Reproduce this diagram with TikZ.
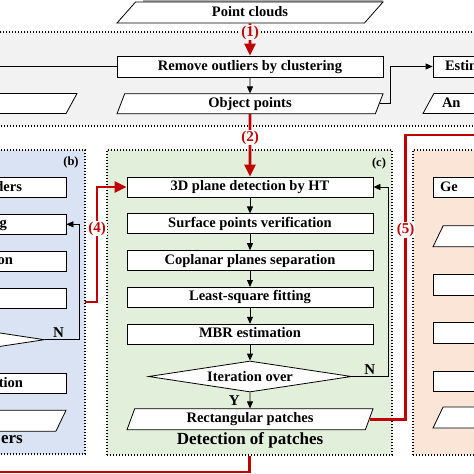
\documentclass[tikz,border=0pt]{standalone}
\usepackage{fontspec}
\setmainfont{Liberation Serif}
\usetikzlibrary{positioning,shapes.geometric,arrows.meta}

\definecolor{darkred}{HTML}{C00000}
\definecolor{graybg}{HTML}{F2F2F2}
\definecolor{bluebg}{HTML}{DAE3F3}
\definecolor{greenbg}{HTML}{E2EFDA}
\definecolor{orangebg}{HTML}{FBE5D6}

\tikzset{
  stepbox/.style={draw, rectangle, fill=white, line width=0.8pt, minimum width=246, minimum height=20,
    inner sep=1pt, text height=10pt, text depth=3pt, font=\bfseries\fontsize{14.5}{16}\selectfont},
  databox/.style={stepbox, trapezium, trapezium left angle=63, trapezium right angle=117,
    trapezium stretches body=true, minimum height=21},
  decision/.style={draw, diamond, fill=white, line width=0.8pt, minimum width=203, minimum height=31,
    aspect=6.5, inner sep=0pt, font=\bfseries\fontsize{14.5}{16}\selectfont},
  cutleft/.style 2 args={align=left, inner xsep=#1, text width=#2},
  cutright/.style 2 args={align=right, inner xsep=#1, text width=#2},
  panel/.style={draw, line width=1.3pt, dash pattern=on 1.3pt off 1.7pt, inner sep=0pt},
  flow/.style={-{Triangle[length=7pt,width=6pt]}, line width=0.8pt},
  link/.style={line width=0.8pt},
  redflow/.style={-{Triangle[length=12pt,width=11pt]}, line width=2.8pt, darkred},
  redline/.style={line width=2.8pt, darkred},
  redlabel/.style={text=darkred, font=\bfseries\fontsize{15}{17}\selectfont, inner sep=1pt},
  yesno/.style={font=\bfseries\fontsize{15}{17}\selectfont, inner sep=2pt},
  titletext/.style={font=\bfseries\fontsize{17}{19}\selectfont, inner sep=0pt},
  tagtext/.style={font=\bfseries\fontsize{12.5}{14}\selectfont, inner sep=0pt},
}

\begin{document}
\begin{tikzpicture}[x=1pt, y=-1pt, node distance=16pt]
\useasboundingbox (0,0) rectangle (474,474);
\clip (0,0) rectangle (474,474);

% backgrounds
\fill[gray!65] (143,-5) rectangle (383,2);
\node[panel, fill=graybg, minimum width=520, minimum height=94] (band) at (237,79) {};
\node[panel, fill=bluebg, minimum width=300, minimum height=304] (panel_b) at (-65,302) {};
\node[panel, fill=greenbg, minimum width=285, minimum height=305] (panel_c) at (249.5,302.5) {};
\node[panel, fill=orangebg, minimum width=300, minimum height=305] (panel_d) at (563,302.5) {};

% top row
\node[databox, trapezium left angle=39, trapezium right angle=141, minimum width=266] (clouds) at (250,12.5) {Point clouds};
\node[stepbox, minimum width=266, minimum height=21] (remove) at (250,66.5) {Remove outliers by clustering};
\node[databox, minimum width=266, minimum height=20] (objpts) [below=of remove] {Object points};
\node[databox, trapezium left angle=54, trapezium right angle=126, minimum width=266, minimum height=20] (left_data) at (-56,103.5) {};
\node[stepbox, cutleft={12pt}{222pt}, minimum height=21] (estima) at (556,66.5) {Estima};
\node[databox, trapezium left angle=54, trapezium right angle=126, cutleft={2pt}{228pt}, minimum width=266, minimum height=20] (an_data) at (556,103.5) {An};

% panel (b)
\node[stepbox, cutright={44pt}{158pt}] (b_one) at (-57,187.5) {lders};
\node[stepbox, cutright={59pt}{128pt}] (b_two) [below=of b_one] {g};
\node[stepbox, cutright={53pt}{140pt}] (b_three) [below=of b_two] {on};
\node[stepbox] (b_four) [below=of b_three] {};
\node[decision] (b_iter) [below=15.5pt of b_four] {};
\node[stepbox, cutright={43pt}{160pt}] (b_five) [below=17.5pt of b_iter] {tion};
\node[databox, trapezium left angle=56, trapezium right angle=124] (b_data) [below=of b_five] {};
\node[titletext, anchor=east] (title_b) at (23,440) {ers};
\node[tagtext] (tag_b) at (71,162) {(b)};

% panel (c)
\node[stepbox] (plane) at (250,187) {3D plane detection by HT};
\node[stepbox] (verify) [below=of plane] {Surface points verification};
\node[stepbox] (coplanar) [below=of verify] {Coplanar planes separation};
\node[stepbox] (lsq) [below=of coplanar] {Least-square fitting};
\node[stepbox] (mbr) [below=of lsq] {MBR estimation};
\node[decision] (iter) [below=of mbr] {Iteration over};
\node[databox] (patches) [below=of iter] {Rectangular patches};
\node[titletext] (title_c) at (250,440) {Detection of patches};
\node[tagtext] (tag_c) at (379,163) {(c)};

% panel (d)
\node[stepbox, cutleft={7pt}{232pt}] (d_one) at (556,187.5) {Ge};
\node[databox, trapezium left angle=56, trapezium right angle=124] (d_two) [below=27.5pt of d_one] {};
\node[stepbox, minimum height=21] (d_three) [below=27pt of d_two] {};
\node[stepbox, minimum height=21] (d_four) [below=26pt of d_three] {};
\node[stepbox] (d_five) [below=27pt of d_four] {};
\node[databox, trapezium left angle=56, trapezium right angle=124] (d_six) [below=15pt of d_five] {};

% connectors
\coordinate (left_in) at (-10,66.5);
\coordinate (b_out) at (85,302);
\coordinate (d_in) at (480,135);
\coordinate (b_end) at (-10,472);

\draw[redflow] (clouds) -- node[redlabel, fill=graybg, pos=0.28] {(1)} (remove);
\draw[link] (remove.west) -- (left_in);
\draw[flow] (remove) -- (objpts);
\draw[flow] (objpts.east) -- ++(11,0) |- (estima.west);
\draw[redflow] (objpts) -- node[redlabel, fill=white, pos=0.375] {(2)} (plane);

\foreach \a/\b in {plane/verify, verify/coplanar, coplanar/lsq, lsq/mbr, mbr/iter}
  \draw[flow] (\a) -- (\b);
\draw[flow] (iter) -- node[yesno, left=8pt] {Y} (patches);
\draw[flow] (iter.east) -- node[yesno, above] {N} ++(36,0) |- (plane.east);
\draw[flow] (b_iter.east) -- node[yesno, above, pos=0.4] {N} ++(34,0) |- (b_two.east);

\draw[redflow] (b_out) -- ++(12,0) |- node[redlabel, fill=white, pos=0.32] {(4)} (plane.west);
\draw[redline] (patches.east) -- ++(36,0) |- node[redlabel, fill=white, pos=0.333] {(5)} (d_in);
\draw[redline] (panel_c.south) |- (b_end);
\end{tikzpicture}
\end{document}
